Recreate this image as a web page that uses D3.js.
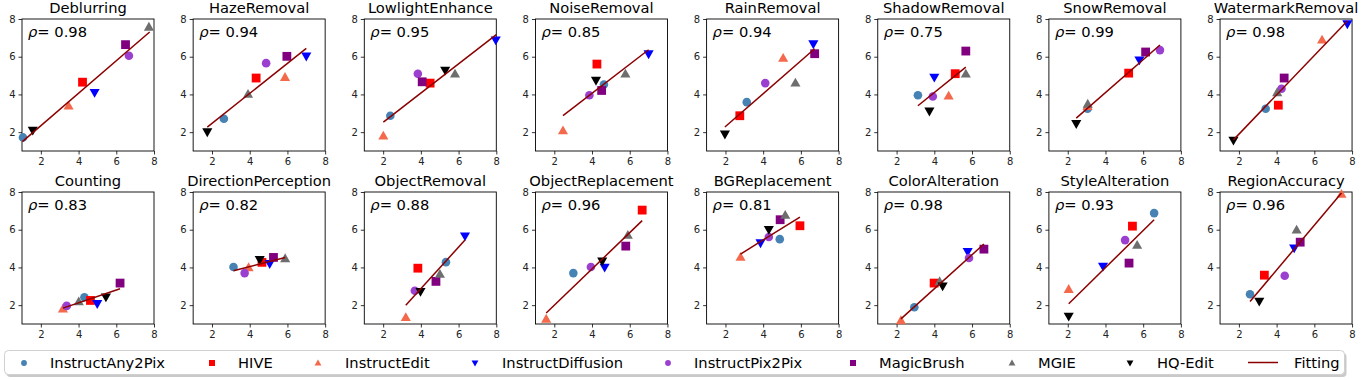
<!DOCTYPE html>
<html><head><meta charset="utf-8">
<script src="https://cdn.jsdelivr.net/npm/d3@7"></script>
<style>
html,body{margin:0;padding:0;background:#fff;}
svg{display:block;font-family:"DejaVu Sans",sans-serif;}
</style></head>
<body>
<svg id="chart" width="1361" height="380"></svg>
<script>
const tasks = ["Deblurring","HazeRemoval","LowlightEnhance","NoiseRemoval","RainRemoval","ShadowRemoval","SnowRemoval","WatermarkRemoval",
  "Counting","DirectionPerception","ObjectRemoval","ObjectReplacement","BGReplacement","ColorAlteration","StyleAlteration","RegionAccuracy"];
const rhos = ["0.98","0.94","0.95","0.85","0.94","0.75","0.99","0.98","0.83","0.82","0.88","0.96","0.81","0.98","0.93","0.96"];
const methods = ["InstructAny2Pix","HIVE","InstructEdit","InstructDiffusion","InstructPix2Pix","MagicBrush","MGIE","HQ-Edit"];
const tickValues = [2,4,6,8];

// [x, y] per task, in task order
const InstructAny2Pix = [[1.05,1.72],[2.63,2.71],[2.38,2.87],[4.63,4.53],[3.13,3.59],[3.13,3.96],[3.05,3.24],[3.42,3.24],
  [4.31,2.42],[3.14,4.02],[5.33,4.28],[3.01,3.70],[4.88,5.50],[2.94,1.89],[6.58,6.88],[2.59,2.58]];
const HIVE = [[4.21,4.65],[4.34,4.87],[4.49,4.60],[4.26,5.61],[2.76,2.87],[5.11,5.10],[5.23,5.13],[4.09,3.43],
  [4.63,2.25],[4.65,4.27],[3.84,3.96],[6.66,7.04],[5.95,6.21],[3.99,3.17],[5.43,6.19],[3.35,3.59]];
const InstructEdit = [[3.47,3.40],[5.87,4.92],[2.01,1.81],[2.46,2.09],[5.06,5.93],[4.76,3.93],[3.05,3.38],[6.41,6.90],
  [3.17,1.81],[3.94,4.00],[3.20,1.36],[1.57,1.27],[2.80,4.55],[2.23,1.19],[2.05,2.85],[7.44,7.89]];
const InstructDiffusion = [[4.85,4.09],[7.00,6.02],[7.97,6.87],[7.00,6.14],[6.66,6.67],[4.00,4.90],[5.80,5.81],[7.75,7.73],
  [4.99,2.07],[5.06,4.19],[6.34,5.65],[4.67,4.00],[3.86,5.29],[5.77,4.83],[3.87,4.05],[4.93,5.02]];
const InstructPix2Pix = [[6.67,6.05],[4.87,5.66],[3.84,5.10],[3.86,3.96],[4.11,4.60],[3.92,3.89],[6.89,6.35],[4.26,4.30],
  [3.37,1.96],[3.73,3.70],[3.68,2.76],[3.94,4.02],[4.30,5.61],[5.84,4.50],[5.04,5.45],[4.43,3.56]];
const MagicBrush = [[6.49,6.64],[5.97,6.02],[4.07,4.67],[4.51,4.21],[6.73,6.16],[5.67,6.30],[6.13,6.25],[4.40,4.87],
  [6.20,3.17],[5.26,4.53],[4.80,3.26],[5.79,5.13],[4.90,6.53],[6.63,4.97],[5.25,4.23],[5.25,5.34]];
const MGIE = [[7.73,7.58],[3.91,4.02],[5.81,5.10],[5.77,5.10],[5.71,4.62],[5.67,5.10],[3.06,3.50],[4.03,4.11],
  [4.01,2.19],[5.88,4.48],[5.01,3.65],[5.90,5.72],[5.17,6.78],[4.28,3.26],[5.68,5.19],[5.06,6.00]];
const HQEdit = [[1.57,2.09],[1.75,2.00],[5.29,5.27],[4.21,4.73],[1.97,1.88],[3.74,3.10],[2.45,2.44],[1.71,1.56],
  [5.45,2.42],[4.53,4.41],[3.98,2.71],[4.54,4.32],[4.30,6.00],[4.44,3.00],[2.05,1.40],[3.08,2.19]];
// fitting line end points [x0, y0, x1, y1]
const fitLines = [[1.02,1.50,7.77,7.31],[1.75,2.27,7.00,6.44],[2.01,2.53,8.00,7.17],[2.46,2.88,7.00,6.37],
  [1.97,2.27,6.73,6.42],[3.13,3.40,5.67,5.45],[2.45,2.74,6.89,6.62],[1.71,1.59,7.75,7.89],
  [3.17,1.84,6.20,2.87],[3.14,3.82,5.88,4.53],[3.20,2.00,6.34,5.45],[1.57,1.58,6.66,6.48],
  [2.80,4.71,5.95,6.67],[2.23,1.27,6.63,5.24],[2.05,2.07,6.58,6.53],[2.59,2.19,7.44,7.95]];

const seriesData = [InstructAny2Pix,HIVE,InstructEdit,InstructDiffusion,InstructPix2Pix,MagicBrush,MGIE,HQEdit];
const colors = ["#4682b4","#ff0000","#f4694c","#0000ff","#9b3fd0","#800080","#6e6e6e","#000000"];
const shapes = ["circle","square","triangle","down","circle","square","triangle","down"];
const fitColor = "#8b0000";

const svg = d3.select("#chart");
const W = 132, H = 132;
const lefts = d3.range(8).map(i => 22 + i*171.15);
const tops = [19, 192];

function markerPath(shape, s) {
  if (shape === "circle") return d3.symbol(d3.symbolCircle, Math.PI*s*s)();
  if (shape === "square") return `M${-s},${-s}H${s}V${s}H${-s}Z`;
  const h = s*1.1;
  if (shape === "triangle") return `M0,${-h}L${h},${h*0.75}L${-h},${h*0.75}Z`;
  return `M0,${h}L${h},${-h*0.75}L${-h},${-h*0.75}Z`;
}
const halfSize = {circle:4.3, square:4.4, triangle:4.6, down:4.6};

tasks.forEach((task, t) => {
  const row = Math.floor(t/8), col = t%8;
  const g = svg.append("g").attr("transform", `translate(${lefts[col]},${tops[row]})`);
  const x = d3.scaleLinear().domain([1,8]).range([0,W]);
  const y = d3.scaleLinear().domain([1,8]).range([H,0]);

  const xa = g.append("g").attr("transform",`translate(0,${H})`)
    .call(d3.axisBottom(x).tickValues(tickValues).tickFormat(d3.format("d")).tickSize(3.5).tickPadding(3));
  const ya = g.append("g").call(d3.axisLeft(y).tickValues(tickValues).tickFormat(d3.format("d")).tickSize(3.5).tickPadding(3));
  [xa,ya].forEach(a => {
    a.select(".domain").remove();
    a.selectAll("line").attr("stroke","#000").attr("stroke-width",0.8);
    a.selectAll("text").attr("font-size","10px").attr("fill","#222").attr("font-family","DejaVu Sans");
  });
  g.append("rect").attr("x",0).attr("y",0).attr("width",W).attr("height",H)
    .attr("fill","none").attr("stroke","#000").attr("stroke-width",0.9);

  const pg = g.append("g");
  seriesData.forEach((ser, m) => {
    const p = ser[t];
    pg.append("path").attr("d", markerPath(shapes[m], halfSize[shapes[m]]))
      .attr("transform",`translate(${x(p[0])},${y(p[1])})`)
      .attr("fill", colors[m]);
  });
  const f = fitLines[t];
  g.append("line").attr("x1",x(f[0])).attr("y1",y(f[1])).attr("x2",x(f[2])).attr("y2",y(f[3]))
    .attr("stroke",fitColor).attr("stroke-width",1.5);

  g.append("text").attr("x",W/2).attr("y",-6).attr("text-anchor","middle")
    .attr("font-size","14.7px").attr("fill","#000").text(task);
  const rt = g.append("text").attr("x",6).attr("y",17.7).attr("font-size","14.7px").attr("fill","#000");
  rt.append("tspan").attr("font-style","italic").text("ρ");
  rt.append("tspan").text("= " + rhos[t]);
});

// legend
const lg = svg.append("g");
lg.append("rect").attr("x",6.5).attr("y",353).attr("width",1340).attr("height",24).attr("rx",4)
  .attr("fill","#bbb").attr("opacity",0.8);
lg.append("rect").attr("x",4.5).attr("y",350.5).attr("width",1340).attr("height",24).attr("rx",4)
  .attr("fill","#fff").attr("stroke","#d0d0d0").attr("stroke-width",1);
const markerX = [24,212,318,475,668,853,1012,1130];
const textX = [50,238,345,502,694,879,1038,1157];
methods.forEach((name, m) => {
  lg.append("path").attr("d", markerPath(shapes[m], halfSize[shapes[m]]*0.68))
    .attr("transform",`translate(${markerX[m]},${363})`).attr("fill",colors[m]);
  lg.append("text").attr("x",textX[m]).attr("y",368).attr("font-size","14.7px").attr("fill","#000").text(name);
});
lg.append("line").attr("x1",1248).attr("x2",1278).attr("y1",362.5).attr("y2",362.5)
  .attr("stroke",fitColor).attr("stroke-width",1.5);
lg.append("text").attr("x",1294).attr("y",368).attr("font-size","14.7px").attr("fill","#000").text("Fitting");
</script>
</body></html>
